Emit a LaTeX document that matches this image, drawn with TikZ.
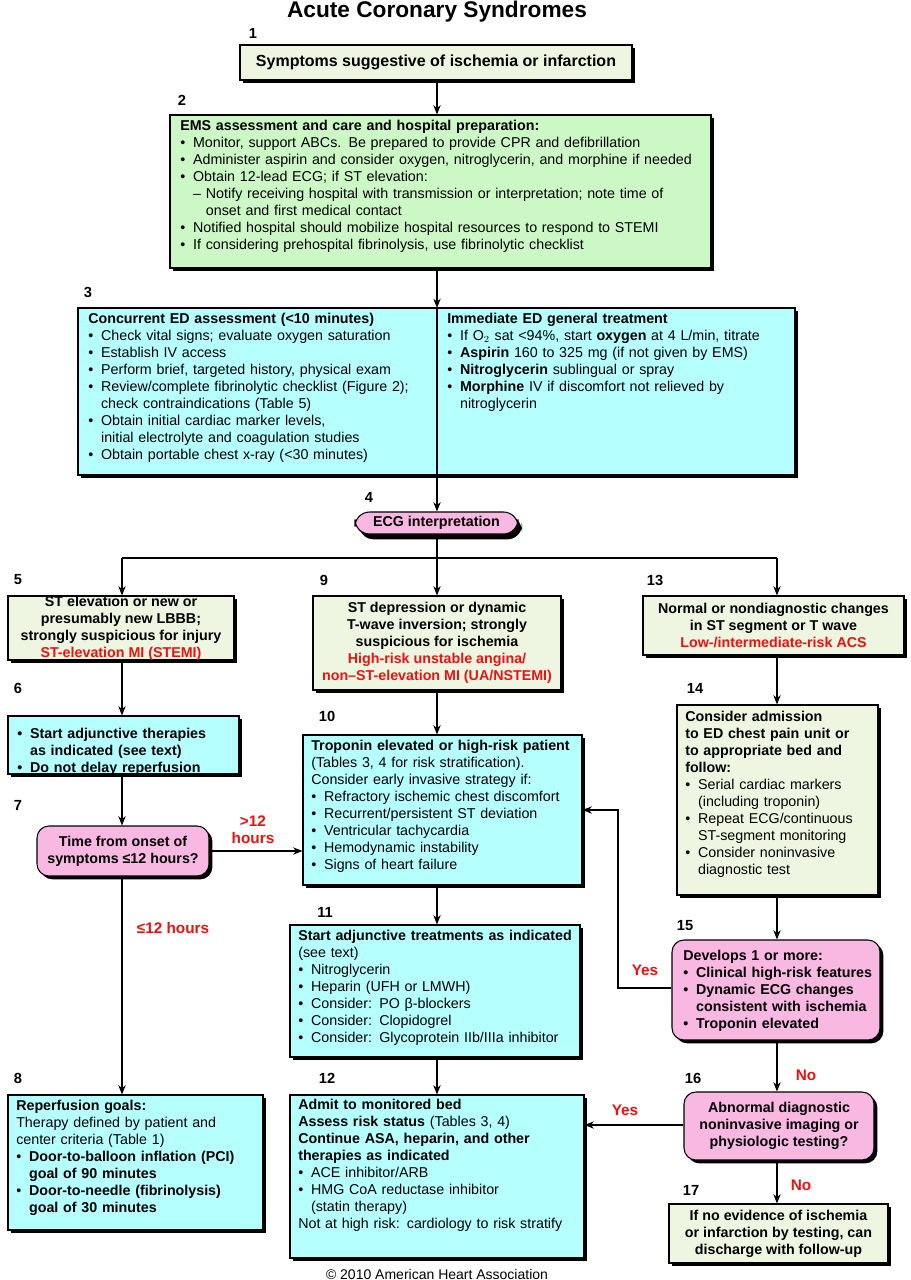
\documentclass[tikz,border=0pt]{standalone}
\usepackage{fontspec}
\setmainfont{Liberation Sans}
\usetikzlibrary{arrows.meta,shadows,fit}
\definecolor{cyanc}{HTML}{B5FFFF}
\definecolor{palec}{HTML}{EEF5E0}
\definecolor{greenc}{HTML}{CCF8C6}
\definecolor{pinkc}{HTML}{F9B8E2}
\definecolor{redc}{HTML}{EE1111}
\newcommand\bi{\par\hangindent=0.9em\hangafter=1\noindent\makebox[0.9em][l]{\textbullet}}
\newcommand\di{\par\hangindent=1.8em\hangafter=1\noindent\hspace*{0.9em}\makebox[0.9em][l]{--}}
\newcommand\nl{\break}
\newcommand\hd[1]{\noindent\textbf{#1}}
\newcommand\rd[1]{\textcolor{redc}{#1}}
\begin{document}
\begin{tikzpicture}[x=0.75pt,y=-0.75pt,
  box/.style={draw=black,line width=0.8pt,inner sep=0pt,
    drop shadow={shadow xshift=2.5pt,shadow yshift=-2.5pt,fill=black,opacity=1}},
  rbox/.style={box,rounded corners=9pt},
  txt/.style={anchor=north west,inner sep=0pt,text width=#1,align=left,
    font=\fontsize{10.7}{12.75}\selectfont},
  ctxt/.style={inner sep=0pt,align=center,font=\fontsize{10.7}{12.75}\selectfont\bfseries},
  num/.style={font=\fontsize{11}{12}\selectfont\bfseries,inner sep=0pt},
  lab/.style={font=\fontsize{11.5}{12.5}\selectfont\bfseries,text=redc,inner sep=0pt},
  arr/.style={line width=0.9pt,-{Stealth[length=7pt,width=5.5pt]}},
  ln/.style={line width=0.9pt}]
\useasboundingbox (0,0) rectangle (910,1280);
\fill[white] (0,0) rectangle (910,1280);
\node[font=\fontsize{17}{18}\selectfont\bfseries] (title) at (437,12) {Acute Coronary Syndromes};
% boxes
\node[box,fill=palec,fit={(240,45)(632,80)}] (b1) {};
\node[ctxt,font=\fontsize{12}{13}\selectfont\bfseries] at (b1) {Symptoms suggestive of ischemia or infarction};
\node[num] at (253,33) {1};
\node[box,fill=greenc,fit={(170,115)(711,268)}] (b2) {};
\node[txt=520pt] at (180,120) {\hd{EMS assessment and care and hospital preparation:}
\bi Monitor, support ABCs. Be prepared to provide CPR and defibrillation
\bi Administer aspirin and consider oxygen, nitroglycerin, and morphine if needed
\bi Obtain 12-lead ECG; if ST elevation:
\di Notify receiving hospital with transmission or interpretation; note time of\nl onset and first medical contact
\bi Notified hospital should mobilize hospital resources to respond to STEMI
\bi If considering prehospital fibrinolysis, use fibrinolytic checklist\par};
\node[num] at (182,100) {2};
\node[box,fill=cyanc,fit={(78,308)(795,475)}] (b3) {};
\coordinate (b3t) at (437,308);
\coordinate (b3b) at (437,475);
\draw[ln] (b3t) -- (b3b);
\node[txt=340pt] at (88,313) {\hd{Concurrent ED assessment (<10 minutes)}
\bi Check vital signs; evaluate oxygen saturation
\bi Establish IV access
\bi Perform brief, targeted history, physical exam
\bi Review/complete fibrinolytic checklist (Figure 2);\nl check contraindications (Table 5)
\bi Obtain initial cardiac marker levels,\nl initial electrolyte and coagulation studies
\bi Obtain portable chest x-ray (<30 minutes)\par};
\node[txt=340pt] at (447,313) {\hd{Immediate ED general treatment}
\bi If O$_2$ sat <94\%, start \textbf{oxygen} at 4 L/min, titrate
\bi \textbf{Aspirin} 160 to 325 mg (if not given by EMS)
\bi \textbf{Nitroglycerin} sublingual or spray
\bi \textbf{Morphine} IV if discomfort not relieved by\nl nitroglycerin\par};
\node[num] at (88,292) {3};
\node[box,fill=pinkc,rounded corners=11pt,fit={(355,512)(518,534)},
  drop shadow={shadow xshift=3pt,shadow yshift=-4pt,fill=black,opacity=1}] (b4) {};
\node[ctxt] at (b4) {ECG interpretation};
\node[num] at (369,497) {4};
\node[box,fill=palec,fit={(8,596)(234,660)}] (b5) {};
\node[ctxt] at (b5) {ST elevation or new or\\presumably new LBBB;\\strongly suspicious for injury\\\rd{ST-elevation MI (STEMI)}};
\node[num] at (18,580) {5};
\node[box,fill=palec,fit={(313,596)(561,690)}] (b9) {};
\node[ctxt] at (b9) {ST depression or dynamic\\T-wave inversion; strongly\\suspicious for ischemia\\\rd{High-risk unstable angina/}\\\rd{non–ST-elevation MI (UA/NSTEMI)}};
\node[num] at (324,580) {9};
\node[box,fill=palec,fit={(643,596)(904,655)}] (b13) {};
\node[ctxt] at (b13) {Normal or nondiagnostic changes\\in ST segment or T wave\\\rd{Low-/intermediate-risk ACS}};
\node[num] at (655,580) {13};
\node[box,fill=cyanc,fit={(8,716)(239,774)}] (b6) {};
\node[txt=170pt,font=\fontsize{10.7}{12.75}\selectfont\bfseries] at (17,721) {\bi Start adjunctive therapies\nl as indicated (see text)\bi Do not delay reperfusion\par};
\node[num] at (18,688) {6};
\node[rbox,fill=pinkc,fit={(37,826)(209,876)}] (b7) {};
\node[ctxt] at (b7) {Time from onset of\\symptoms ≤12 hours?};
\node[num] at (18,805) {7};
\node[box,fill=cyanc,fit={(8,1095)(263,1230)}] (b8) {};
\node[txt=185pt] at (16,1100) {\hd{Reperfusion goals:}\par\noindent Therapy defined by patient and\nl center criteria (Table 1)
\bi \textbf{Door-to-balloon inflation (PCI)}\nl \textbf{goal of 90 minutes}
\bi \textbf{Door-to-needle (fibrinolysis)}\nl \textbf{goal of 30 minutes}\par};
\node[num] at (18,1078) {8};
\node[box,fill=cyanc,fit={(303,735)(582,885)}] (b10) {};
\node[txt=205pt] at (311,740) {\hd{Troponin elevated or high-risk patient}\par\noindent(Tables 3, 4 for risk stratification).\nl Consider early invasive strategy if:
\bi Refractory ischemic chest discomfort
\bi Recurrent/persistent ST deviation
\bi Ventricular tachycardia
\bi Hemodynamic instability
\bi Signs of heart failure\par};
\node[num] at (327,716) {10};
\node[box,fill=cyanc,fit={(290,925)(580,1057)}] (b11) {};
\node[txt=215pt] at (298,930) {\hd{Start adjunctive treatments as indicated}\par\noindent(see text)
\bi Nitroglycerin
\bi Heparin (UFH or LMWH)
\bi Consider: PO β-blockers
\bi Consider: Clopidogrel
\bi Consider: Glycoprotein IIb/IIIa inhibitor\par};
\node[num] at (325,912) {11};
\node[box,fill=cyanc,fit={(290,1095)(584,1258)}] (b12) {};
\node[txt=215pt] at (298,1099) {\hd{Admit to monitored bed}\par\noindent\textbf{Assess risk status} (Tables 3, 4)\par\noindent\textbf{Continue ASA, heparin, and other\nl therapies as indicated}
\bi ACE inhibitor/ARB
\bi HMG CoA reductase inhibitor\nl (statin therapy)
\par\noindent Not at high risk: cardiology to risk stratify\par};
\node[num] at (327,1078) {12};
\node[box,fill=palec,fit={(677,705)(878,895)}] (b14) {};
\node[txt=150pt] at (685,711) {\hd{Consider admission\\to ED chest pain unit or\\to appropriate bed and\\follow:}
\bi Serial cardiac markers\nl (including troponin)
\bi Repeat ECG/continuous\nl ST-segment monitoring
\bi Consider noninvasive\nl diagnostic test\par};
\node[num] at (695,688) {14};
\node[rbox,fill=pinkc,fit={(672,940)(880,1040)}] (b15) {};
\node[txt=155pt,font=\fontsize{10.7}{12.75}\selectfont\bfseries] at (683,950) {Develops 1 or more:
\bi Clinical high-risk features
\bi Dynamic ECG changes\nl consistent with ischemia
\bi Troponin elevated\par};
\node[num] at (685,926) {15};
\node[rbox,fill=pinkc,fit={(684,1092)(874,1160)}] (b16) {};
\node[ctxt] at (b16) {Abnormal diagnostic\\noninvasive imaging or\\physiologic testing?};
\node[num] at (693,1078) {16};
\node[box,fill=palec,fit={(669,1204)(888,1263)}] (b17) {};
\node[ctxt] at (b17) {If no evidence of ischemia\\or infarction by testing, can\\discharge with follow-up};
\node[num] at (691,1190) {17};
\node[font=\fontsize{10.5}{12}\selectfont] (copy) at (437,1274) {© 2010 American Heart Association};
% connectors
\draw[arr] (b1.south-|437,0) -- (b2.north-|437,0);
\draw[arr] (b2.south-|437,0) -- (b3t);
\draw[arr] (b3b) -- (b4.north-|437,0);
\coordinate (hl) at (122,558);
\coordinate (hm) at (437,558);
\coordinate (hr) at (777,558);
\draw[ln] (b4.south-|437,0) -- (hm);
\draw[ln] (hl) -- (hr);
\draw[arr] (hl) -- (hl|-b5.north);
\draw[arr] (hm) -- (hm|-b9.north);
\draw[arr] (hr) -- (hr|-b13.north);
\draw[arr] (hm|-b9.south) -- (hm|-b10.north);
\draw[arr] (hm|-b10.south) -- (hm|-b11.north);
\draw[arr] (hm|-b11.south) -- (hm|-b12.north);
\draw[arr] (hl|-b5.south) -- (hl|-b6.north);
\draw[arr] (hl|-b6.south) -- (hl|-b7.north);
\draw[arr] (hl|-b7.south) -- (hl|-b8.north);
\draw[arr] (b7.east) -- (b10.west|-b7.east);
\draw[arr] (hr|-b13.south) -- (hr|-b14.north);
\draw[arr] (hr|-b14.south) -- (hr|-b15.north);
\draw[arr] (hr|-b15.south) -- (hr|-b16.north);
\draw[arr] (hr|-b16.south) -- (hr|-b17.north);
\coordinate (yc) at (618,988);
\draw[arr] (b15.west|-yc) -- (yc) -- (618,810) -- (b10.east|-0,810);
\draw[arr] (b16.west|-0,1125) -- (b12.east|-0,1125);
\node[lab,align=center] at (253,830) {>12\\hours};
\node[lab] at (173,928) {≤12 hours};
\node[lab] at (645,970) {Yes};
\node[lab] at (625,1110) {Yes};
\node[lab] at (806,1075) {No};
\node[lab] at (801,1185) {No};
\end{tikzpicture}
\end{document}
